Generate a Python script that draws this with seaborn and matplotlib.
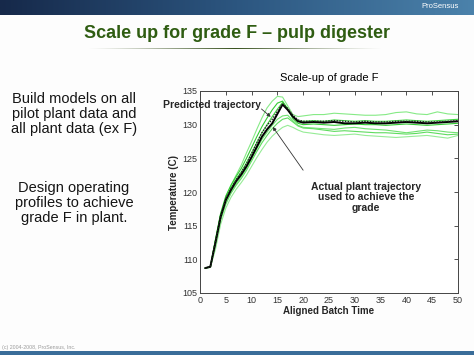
# -*- coding: utf-8 -*-
import matplotlib.pyplot as plt
import numpy as np
import seaborn as sns
from matplotlib.colors import LinearSegmentedColormap

palette = {
    "navy": "#16294a", "steel": "#4b82ab",
    "title": "#2f5d12", "text": "#151515",
    "tick": "#333333", "footer": "#3a6d99",
}

# Aligned batch time points
time = [1, 2, 3, 4, 5, 6, 7, 8, 9, 10, 11, 12, 13, 14, 15, 16, 17, 18, 19, 20,
        22, 24, 26, 28, 30, 32, 34, 36, 38, 40, 42, 44, 46, 48, 50]

# Actual plant trajectory (black solid) and predicted trajectory (dotted)
actual = [108.7, 108.9, 112.5, 116.3, 118.8, 120.3, 121.6, 122.6, 123.8, 125.2,
          126.7, 128.2, 129.3, 130.2, 131.6, 133.0, 132.2, 131.2, 130.5, 130.3,
          130.4, 130.3, 130.4, 130.2, 130.2, 130.3, 130.2, 130.2, 130.3, 130.4,
          130.3, 130.2, 130.3, 130.4, 130.5]
predicted = [108.7, 108.9, 112.6, 116.4, 119.0, 120.5, 121.8, 122.9, 124.2, 125.7,
             127.3, 128.8, 129.9, 130.8, 132.0, 133.1, 132.4, 131.4, 130.7, 130.5,
             130.5, 130.5, 130.6, 130.5, 130.4, 130.5, 130.4, 130.4, 130.5, 130.5,
             130.5, 130.4, 130.4, 130.5, 130.6]

# Historical plant batches (green)
batch_1 = [108.7, 108.9, 112.8, 116.8, 119.2, 121.0, 122.5, 124.0, 125.8, 127.5,
           129.3, 131.0, 132.5, 133.5, 134.2, 134.1, 132.8, 131.5, 131.2, 131.3,
           131.5, 131.5, 131.7, 131.6, 131.5, 131.4, 131.4, 131.5, 131.8, 131.9,
           131.6, 131.5, 131.9, 131.6, 131.5]
batch_2 = [108.7, 108.9, 112.8, 116.6, 119.0, 120.6, 121.9, 123.0, 124.3, 125.8,
           127.3, 128.8, 130.0, 131.2, 132.3, 133.3, 132.4, 131.2, 130.6, 130.5,
           130.6, 130.5, 130.7, 130.6, 130.5, 130.6, 130.5, 130.5, 130.6, 130.7,
           130.6, 130.5, 130.6, 130.7, 130.8]
batch_3 = [108.7, 108.8, 112.0, 115.8, 118.2, 119.8, 121.0, 122.0, 123.2, 124.6,
           126.0, 127.3, 128.4, 129.4, 130.2, 130.8, 131.0, 130.4, 129.8, 129.5,
           129.4, 129.2, 129.0, 129.1, 129.0, 128.9, 128.8, 128.8, 128.7, 128.6,
           128.7, 128.9, 128.7, 128.5, 128.6]
batch_4 = [108.7, 108.8, 111.5, 115.2, 117.6, 119.2, 120.4, 121.4, 122.5, 123.8,
           125.1, 126.3, 127.4, 128.3, 129.0, 129.6, 129.9, 129.6, 129.2, 128.9,
           128.7, 128.5, 128.4, 128.5, 128.6, 128.4, 128.3, 128.2, 128.1, 128.2,
           128.3, 128.4, 128.2, 128.0, 128.4]
batch_5 = [108.7, 108.9, 113.0, 116.8, 119.4, 121.0, 122.3, 123.5, 125.0, 126.6,
           128.2, 129.7, 131.0, 132.2, 133.2, 133.5, 132.3, 130.9, 130.2, 130.0,
           130.1, 130.0, 129.9, 130.0, 130.1, 130.0, 130.0, 129.9, 130.0, 130.1,
           130.0, 129.9, 130.0, 130.1, 130.2]
batch_6 = [108.7, 108.9, 112.3, 116.0, 118.5, 120.0, 121.2, 122.3, 123.5, 124.9,
           126.4, 127.8, 128.9, 129.9, 130.8, 131.3, 131.4, 130.6, 129.9, 129.6,
           129.5, 129.4, 129.3, 129.5, 129.6, 129.4, 129.3, 129.2, 129.0, 128.8,
           129.0, 129.2, 129.1, 128.9, 128.8]
batches = [batch_1, batch_2, batch_3, batch_4, batch_5, batch_6]
batch_colors = ["#86ea86", "#44d644", "#5fdc5f", "#96ec96", "#33cc33", "#70e270"]

x_ticks = [0, 5, 10, 15, 20, 25, 30, 35, 40, 45, 50]
y_ticks = [105, 110, 115, 120, 125, 130, 135]

sns.set_style("white")
plt.rcParams["font.family"] = ["Liberation Sans", "DejaVu Sans"]

fig = plt.figure(figsize=(4.74, 3.55), dpi=100)
fig.patch.set_facecolor("#fdfdfd")

# Header band with gradient
head = fig.add_axes([0, 1 - 15 / 355, 1, 15 / 355])
grad = np.linspace(0, 1, 256).reshape(1, -1)
head_cmap = LinearSegmentedColormap.from_list("head", [palette["navy"], "#2c5680", palette["steel"]])
head.imshow(grad, aspect="auto", cmap=head_cmap)
head.axis("off")
fig.text(440 / 474, 1 - 7 / 355, "ProSensus", color="white", fontsize=5.5,
         ha="center", va="center")

# Footer band
foot = fig.add_axes([0, 0, 1, 4 / 355])
foot.set_facecolor(palette["footer"])
foot.set_xticks([])
foot.set_yticks([])
for s in foot.spines.values():
    s.set_visible(False)
fig.text(2 / 474, 8 / 355, "(c) 2004-2008, ProSensus, Inc.", color="#9a9a9a",
         fontsize=3.8, ha="left", va="center")

# Slide title and underline
fig.text(237 / 474, 1 - 34 / 355, "Scale up for grade F \u2013 pulp digester",
         color=palette["title"], fontsize=13, fontweight="bold",
         ha="center", va="center")
uline = fig.add_axes([87 / 474, 1 - 49 / 355, 296 / 474, 1.5 / 355])
u = np.linspace(-1, 1, 300)
rgba = np.zeros((1, 300, 4))
rgba[..., 0] = 0.22
rgba[..., 1] = 0.32
rgba[..., 2] = 0.12
rgba[..., 3] = (1 - np.abs(u)) ** 1.2
uline.imshow(rgba, aspect="auto")
uline.axis("off")

# Left-hand bullet text
fig.text(74 / 474, 1 - 114 / 355,
         "Build models on all\npilot plant data and\nall plant data (ex F)",
         color=palette["text"], fontsize=10.5, ha="center", va="center",
         linespacing=1.1)
fig.text(74 / 474, 1 - 203 / 355,
         "Design operating\nprofiles to achieve\ngrade F in plant.",
         color=palette["text"], fontsize=10.5, ha="center", va="center",
         linespacing=1.1)

# Main chart
ax = fig.add_axes([200 / 474, 62 / 355, 258 / 474, 202 / 355])
ax.set_facecolor("white")

for series, c in zip(batches, batch_colors):
    sns.lineplot(x=time, y=series, color=c, linewidth=0.8, ax=ax, zorder=2)

sns.lineplot(x=time, y=actual, color="black", linewidth=1.4, ax=ax, zorder=3)
sns.lineplot(x=time, y=predicted, color="#222222", linewidth=1.0,
             linestyle=(0, (1, 1)), ax=ax, zorder=4)

ax.set_xlim(0, 50)
ax.set_ylim(105, 135)
ax.set_xticks(x_ticks)
ax.set_yticks(y_ticks)
ax.tick_params(direction="in", length=3, width=0.6, labelsize=6.5,
               colors=palette["tick"], top=True, right=True, pad=2)
ax.tick_params(axis="both", labelcolor=palette["tick"])
for s in ax.spines.values():
    s.set_visible(True)
    s.set_color("#444444")
    s.set_linewidth(0.7)

ax.set_title("Scale-up of grade F", fontsize=8, color="black", pad=7)
ax.set_xlabel("Aligned Batch Time", fontsize=7, fontweight="bold", labelpad=1)
ax.set_ylabel("Temperature (C)", fontsize=7, fontweight="bold", labelpad=2)

# Annotations
ax.text(2.3, 132.9, "Predicted trajectory", fontsize=7.5, fontweight="bold",
        ha="center", va="center", clip_on=False, zorder=6)
ax.annotate("", xy=(14.1, 130.9), xytext=(11.5, 132.6),
            arrowprops=dict(arrowstyle="-|>", color="#333333", lw=0.6,
                            mutation_scale=5), zorder=6)
ax.text(32.2, 119.2, "Actual plant trajectory\nused to achieve the\ngrade",
        fontsize=7.5, fontweight="bold", ha="center", va="center",
        linespacing=1.1, zorder=6)
ax.annotate("", xy=(13.8, 130.0), xytext=(20.3, 122.9),
            arrowprops=dict(arrowstyle="-|>", color="#333333", lw=0.6,
                            mutation_scale=5), zorder=6)

fig.savefig("out.png", dpi=100)
